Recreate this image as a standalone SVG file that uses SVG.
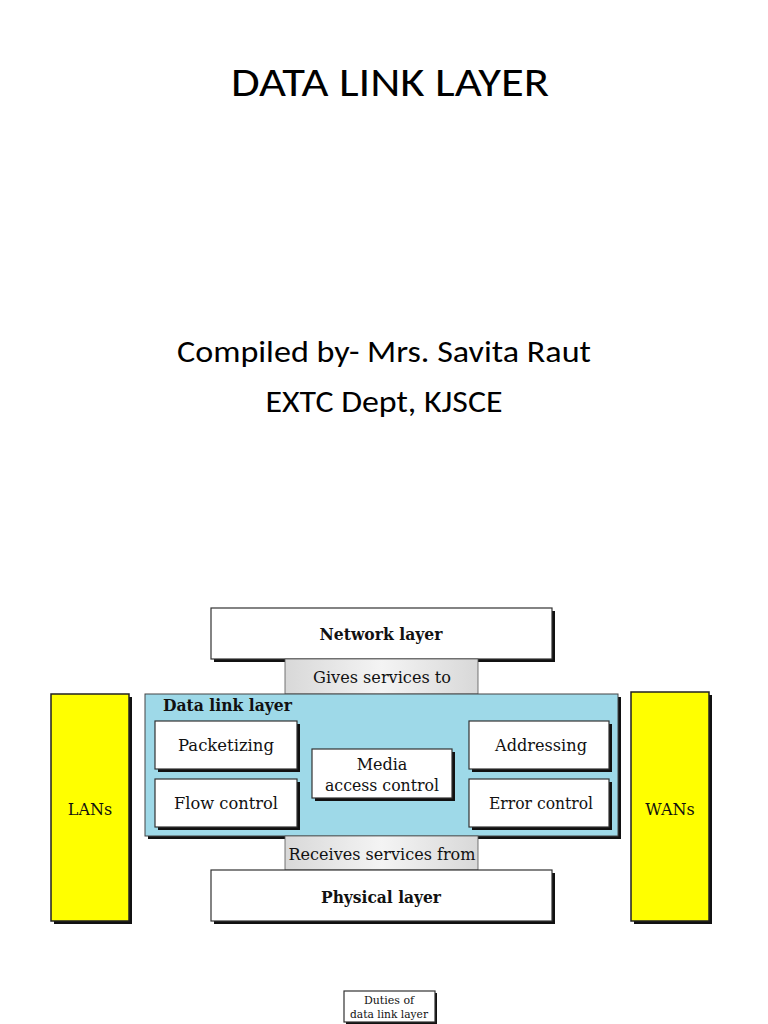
<svg xmlns="http://www.w3.org/2000/svg" width="768" height="1024" viewBox="0 0 768 1024">
<style>
.t{font-family:"DejaVu Serif","Liberation Serif",serif;fill:#111}
.c{font-family:Carlito,Calibri,"Open Sans","Liberation Sans",sans-serif;fill:#000}
.box{fill:#fff;stroke:#333;stroke-width:1.2}
.sh{fill:#111}
</style>
<defs>
<linearGradient id="g" x1="0" y1="0" x2="1" y2="0">
<stop offset="0" stop-color="#d8d8d8"/><stop offset="0.5" stop-color="#f4f4f4"/><stop offset="1" stop-color="#d8d8d8"/>
</linearGradient>
</defs>
<rect width="768" height="1024" fill="#fff"/>
<text x="390" y="96" text-anchor="middle" class="c" font-size="40" textLength="318" lengthAdjust="spacingAndGlyphs">DATA LINK LAYER</text>
<text x="384" y="362" text-anchor="middle" class="c" font-size="31" textLength="414" lengthAdjust="spacingAndGlyphs">Compiled by- Mrs. Savita Raut</text>
<text x="384" y="412" text-anchor="middle" class="c" font-size="31" textLength="237" lengthAdjust="spacingAndGlyphs">EXTC Dept, KJSCE</text>

<g id="lans"><rect x="54" y="697" width="78" height="227" class="sh"/><rect x="51" y="694" width="78" height="227" fill="#ffff00" stroke="#222" stroke-width="1.5"/><text x="90" y="815" text-anchor="middle" class="t" font-size="16">LANs</text></g>
<g id="wans"><rect x="634" y="695" width="78" height="229" class="sh"/><rect x="631" y="692" width="78" height="229" fill="#ffff00" stroke="#222" stroke-width="1.5"/><text x="670" y="815" text-anchor="middle" class="t" font-size="16">WANs</text></g>

<g id="network"><rect x="214" y="611" width="341" height="51" class="sh"/><rect x="211" y="608" width="341" height="51" class="box"/><text x="381" y="640" text-anchor="middle" class="t" font-size="16" font-weight="bold" textLength="123" lengthAdjust="spacingAndGlyphs">Network layer</text></g>
<g id="gives"><rect x="285" y="659" width="193" height="35" fill="url(#g)" stroke="#555" stroke-width="0.8"/><text x="382" y="683" text-anchor="middle" class="t" font-size="16" textLength="138" lengthAdjust="spacingAndGlyphs">Gives services to</text></g>

<g id="dll"><rect x="148" y="697" width="473" height="142" class="sh"/><rect x="145" y="694" width="473" height="142" fill="#9ed9e8" stroke="#444" stroke-width="1"/><text x="163" y="711" class="t" font-size="16" font-weight="bold" textLength="129" lengthAdjust="spacingAndGlyphs">Data link layer</text></g>
<g id="packetizing"><rect x="158" y="724" width="142" height="48" class="sh"/><rect x="155" y="721" width="142" height="48" class="box"/><text x="226" y="751" text-anchor="middle" class="t" font-size="16" textLength="96" lengthAdjust="spacingAndGlyphs">Packetizing</text></g>
<g id="flow"><rect x="158" y="782" width="142" height="48" class="sh"/><rect x="155" y="779" width="142" height="48" class="box"/><text x="226" y="809" text-anchor="middle" class="t" font-size="16" textLength="104" lengthAdjust="spacingAndGlyphs">Flow control</text></g>
<g id="media"><rect x="315" y="752" width="140" height="49" class="sh"/><rect x="312" y="749" width="140" height="49" class="box"/><text x="382" y="770" text-anchor="middle" class="t" font-size="16">Media</text><text x="382" y="791" text-anchor="middle" class="t" font-size="16" textLength="114" lengthAdjust="spacingAndGlyphs">access control</text></g>
<g id="addressing"><rect x="472" y="724" width="140" height="48" class="sh"/><rect x="469" y="721" width="140" height="48" class="box"/><text x="541" y="751" text-anchor="middle" class="t" font-size="16" textLength="92" lengthAdjust="spacingAndGlyphs">Addressing</text></g>
<g id="error"><rect x="472" y="782" width="140" height="48" class="sh"/><rect x="469" y="779" width="140" height="48" class="box"/><text x="541" y="809" text-anchor="middle" class="t" font-size="16" textLength="104" lengthAdjust="spacingAndGlyphs">Error control</text></g>

<g id="receives"><rect x="285" y="836" width="193" height="34" fill="url(#g)" stroke="#555" stroke-width="0.8"/><text x="382" y="860" text-anchor="middle" class="t" font-size="16" textLength="187" lengthAdjust="spacingAndGlyphs">Receives services from</text></g>
<g id="physical"><rect x="214" y="873" width="341" height="51" class="sh"/><rect x="211" y="870" width="341" height="51" class="box"/><text x="381" y="903" text-anchor="middle" class="t" font-size="16" font-weight="bold" textLength="120" lengthAdjust="spacingAndGlyphs">Physical layer</text></g>

<g id="caption"><rect x="346" y="993" width="91" height="31" class="sh"/><rect x="344" y="991" width="91" height="31" class="box"/><text x="389" y="1004" text-anchor="middle" class="t" font-size="11">Duties of</text><text x="389" y="1018" text-anchor="middle" class="t" font-size="11" textLength="78" lengthAdjust="spacingAndGlyphs">data link layer</text></g>
<g id="connectors"></g>
</svg>
